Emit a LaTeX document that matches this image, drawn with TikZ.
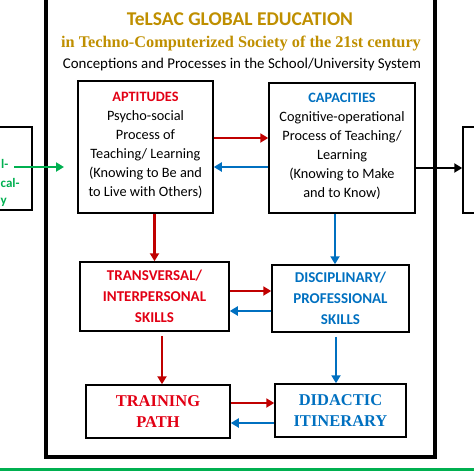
\documentclass[tikz,border=0pt]{standalone}
\usepackage{fontspec}
\setmainfont{Carlito}
\newfontfamily\serifbf{Liberation Serif}
\usepackage{tikz}
\usetikzlibrary{arrows.meta}
\definecolor{golden}{RGB}{191,143,0}
\definecolor{darkred}{RGB}{192,0,0}
\definecolor{txtred}{RGB}{226,0,20}
\definecolor{msblue}{RGB}{0,112,192}
\definecolor{msgreen}{RGB}{0,176,80}
\tikzset{
  box/.style={draw,line width=1.5pt,rectangle,inner sep=0pt,align=center},
  arr/.style={line width=2.6pt,-{Triangle[length=8pt,width=9pt]}},
  plain/.style={align=center,font=\fontsize{14.3}{19}\selectfont},
  skill/.style={font=\fontsize{15}{21}\selectfont\bfseries},
  serifbox/.style={font=\fontsize{16.5}{21}\selectfont\serifbf\bfseries},
  greenbit/.style={font=\fontsize{13}{19}\selectfont\bfseries,text=msgreen,anchor=west,inner sep=0pt}
}
\begin{document}
\begin{tikzpicture}[x=1pt,y=-1pt]
    \useasboundingbox (0,0) rectangle (474,474);
    \draw[line width=3.5pt] (46,-5) rectangle (435,457);
    \draw[msgreen,line width=3pt] (0,469) -- (474,469);
    \node[font=\fontsize{19.5}{22}\selectfont\bfseries,text=golden] (title) at (240,19) {TeLSAC GLOBAL EDUCATION};
    \node[font=\fontsize{16.3}{19}\selectfont\serifbf\bfseries,text=golden] (subtitle) at (241,44) {in Techno-Computerized Society of the 21st century};
    \node[font=\fontsize{14.9}{17}\selectfont] (system) at (242,65) {Conceptions and Processes in the School/University System};
    \node[box,minimum width=135pt,minimum height=132pt] (apt) at (145.5,147) {};
    \node[plain] (apttext) at (145.5,145) {\textcolor{txtred}{\bfseries APTITUDES}\\Psycho-social\\Process of\\Teaching/ Learning\\(Knowing to Be and\\to Live with Others)};
    \node[box,minimum width=146pt,minimum height=130pt] (cap) at (342,148) {};
    \node[plain] (captext) at (342,146.5) {\textcolor{msblue}{\bfseries CAPACITIES}\\Cognitive-operational\\Process of Teaching/\\Learning\\(Knowing to Make\\and to Know)};
    \node[box,skill,text=txtred,minimum width=149pt,minimum height=69pt] (trans) at (154.5,296.5) {TRANSVERSAL/\\INTERPERSONAL\\SKILLS};
    \node[box,skill,text=msblue,minimum width=137pt,minimum height=67pt] (disc) at (340.5,298.5) {DISCIPLINARY/\\PROFESSIONAL\\SKILLS};
    \node[box,serifbox,text=txtred,minimum width=144pt,minimum height=53pt] (train) at (158,411.5) {TRAINING\\PATH};
    \node[box,serifbox,text=msblue,minimum width=131pt,minimum height=53pt] (didac) at (340.5,410.5) {DIDACTIC\\ITINERARY};
    \node[box,minimum width=100pt,minimum height=83pt] (outL) at (-18,168.5) {};
    \node[box,minimum width=60pt,minimum height=86pt] (outR) at (493,170) {};
    \node[greenbit] (gl1) at (1,164) {l-};
    \node[greenbit] (gl2) at (0.5,183) {cal-};
    \node[greenbit] (gl3) at (0.5,202) {y};
    \coordinate (gsrc) at (14,167);
    \coordinate (gdst) at (64,167);
    \draw[arr,msgreen] (gsrc) -- (gdst);
    \draw[arr] (cap.east |- 0,168) -- (outR.west |- 0,168);
    \draw[arr,darkred] (apt.east |- 0,138) -- (cap.west |- 0,138);
    \draw[arr,msblue] (cap.west |- 0,167) -- (apt.east |- 0,167);
    \draw[arr,darkred] (apt.south -| trans.north) -- (trans.north);
    \draw[arr,msblue] (cap.south -| 335,0) -- (disc.north -| 335,0);
    \draw[arr,darkred] (trans.east |- 0,291) -- (disc.west |- 0,291);
    \draw[arr,msblue] (disc.west |- 0,311) -- (trans.east |- 0,311);
    \draw[arr,darkred] ([yshift=-4pt]trans.south -| 162,0) -- (train.north -| 162,0);
    \draw[arr,msblue] ([yshift=-4pt]disc.south -| 336,0) -- (didac.north -| 336,0);
    \draw[arr,darkred] (train.east |- 0,403) -- (didac.west |- 0,403);
    \draw[arr,msblue] (didac.west |- 0,423) -- (train.east |- 0,423);
\end{tikzpicture}
\end{document}
